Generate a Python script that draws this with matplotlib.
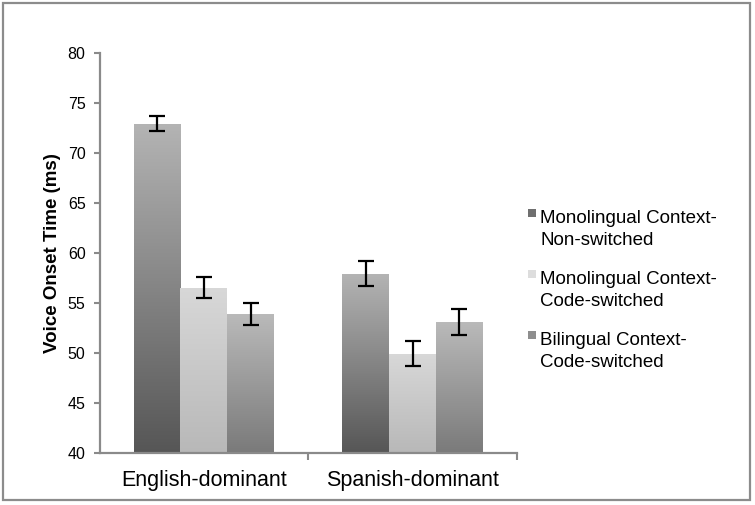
import numpy as np
import matplotlib
matplotlib.use('Agg')
from matplotlib import pyplot as plt
from matplotlib.patches import Rectangle
from matplotlib.colors import LinearSegmentedColormap

plt.rcParams['font.family'] = ['Liberation Sans', 'DejaVu Sans']

# data
groups = ['English-dominant', 'Spanish-dominant']
series = ['Monolingual Context-\nNon-switched',
          'Monolingual Context-\nCode-switched',
          'Bilingual Context-\nCode-switched']
mono_non = [72.9, 57.9]
mono_cs = [56.5, 49.9]
bil_cs = [53.9, 53.1]
mono_non_err = [0.75, 1.25]
mono_cs_err = [1.05, 1.25]
bil_cs_err = [1.1, 1.3]

values = [mono_non, mono_cs, bil_cs]
errors = [mono_non_err, mono_cs_err, bil_cs_err]
# (bottom colour, top colour) of each series' gradient
shades = [('#565656', '#b4b4b4'), ('#b8b8b8', '#d8d8d8'), ('#7a7a7a', '#bababa')]

W, H = 755, 505
fig = plt.figure(figsize=(W / 100, H / 100), dpi=100)
ax = fig.add_axes([99.5 / W, (H - 453) / H, (517 - 99.5) / W, (453 - 52.7) / H])

ymin, ymax = 40, 80
ax.set_xlim(-0.5, 1.5)
ax.set_ylim(ymin, ymax)

width = 0.224
x = np.arange(len(groups))
for i, (vals, errs, (c0, c1)) in enumerate(zip(values, errors, shades)):
    pos = x + (i - 1) * width
    cmap = LinearSegmentedColormap.from_list('g%d' % i, [c0, c1])
    bars = ax.bar(pos, np.array(vals) - ymin, width, bottom=ymin, color='none', edgecolor='none')
    for b in bars:
        x0, y0 = b.get_x(), b.get_y()
        im = ax.imshow(np.linspace(0, 1, 256).reshape(-1, 1), cmap=cmap, origin='lower', aspect='auto',
                       extent=[x0, x0 + b.get_width(), y0, y0 + b.get_height()], zorder=1)
        im.set_clip_path(b)
    ax.errorbar(pos, vals, yerr=errs, fmt='none', ecolor='black', elinewidth=1.6,
                capsize=6, capthick=1.6, zorder=3)

ax.set_xlim(-0.5, 1.5)
ax.set_ylim(ymin, ymax)

for s in ['top', 'right']:
    ax.spines[s].set_visible(False)
for s in ['left', 'bottom']:
    ax.spines[s].set_color('#8a8a8a')
    ax.spines[s].set_linewidth(1.6)

ax.set_yticks(np.arange(40, 81, 5))
ax.tick_params(axis='y', length=4, width=1.5, color='#8a8a8a', labelsize=11.5, pad=6)
ax.set_xticks([0.5, 1.5], minor=False)
ax.set_xticklabels([])
ax.tick_params(axis='x', length=5, width=1.5, color='#8a8a8a')
ax.set_xticks(x, minor=True)
ax.set_xticklabels(groups, minor=True, fontsize=15.5)
ax.tick_params(axis='x', which='minor', length=0, pad=12)

ax.set_ylabel('Voice Onset Time (ms)', fontsize=13.5, fontweight='bold', labelpad=5)

# legend drawn by hand: square beside the first line of each label
for i, (lab, (c0, c1)) in enumerate(zip(series, shades)):
    ytop = 209 + i * 61
    fig.patches.append(Rectangle((528 / W, 1 - (ytop + 8) / H), 8 / W, 8 / H,
                                 transform=fig.transFigure, facecolor=c1 if i == 1 else c0,
                                 edgecolor='none', alpha=0.85))
    fig.text(540 / W, 1 - (ytop + 1) / H, lab, fontsize=13.5, va='top', ha='left',
             linespacing=1.35)

# outer frame
fig.patches.append(Rectangle((3 / W, 1 - 500 / H), 747 / W, 497 / H, transform=fig.transFigure,
                             facecolor='none', edgecolor='#8c8c8c', linewidth=1.6))

fig.savefig('out.png', dpi=100)
